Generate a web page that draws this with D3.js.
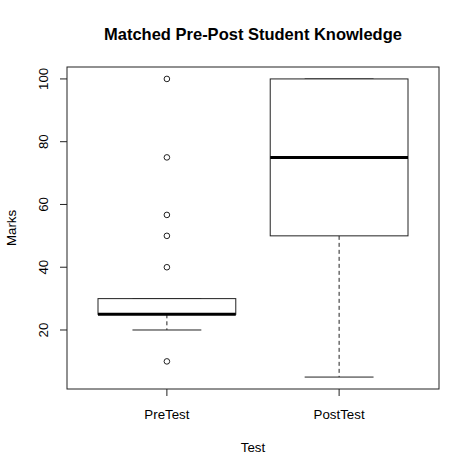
<!DOCTYPE html>
<html><head><meta charset="utf-8">
<script src="https://cdn.jsdelivr.net/npm/d3@7"></script>
<style>body{margin:0;background:#fff}svg{display:block}text{font-family:"Liberation Sans",Arial,sans-serif;fill:#000}</style>
</head><body><svg id="c" width="474" height="474"></svg>
<script>
const categories = ["PreTest", "PostTest"];
const q1 = [25, 50];
const medians = [25, 75];
const q3 = [30, 100];
const whiskerLow = [20, 5];
const whiskerHigh = [30, 100];
const outliers = [[100, 75, 56.67, 50, 40, 10], []];
const yTicks = [20, 40, 60, 80, 100];

const svg = d3.select("#c");
const L = 67, R = 439, T = 67, B = 389;
const x = d3.scaleLinear().domain([0.42, 2.58]).range([L, R]);
const y = d3.scaleLinear().domain([1.2, 103.8]).range([B, T]);
const hw = 0.4, cw = 0.2;
const stroke = "#222";

svg.append("rect").attr("x", L).attr("y", T).attr("width", R - L).attr("height", B - T)
  .attr("fill", "none").attr("stroke", stroke).attr("stroke-width", 1);

categories.forEach((c, i) => {
  const xi = i + 1;
  const g = svg.append("g");
  g.append("line").attr("x1", x(xi)).attr("x2", x(xi)).attr("y1", y(q1[i])).attr("y2", y(whiskerLow[i]))
    .attr("stroke", stroke).attr("stroke-dasharray", "4,3");
  if (whiskerHigh[i] > q3[i]) g.append("line").attr("x1", x(xi)).attr("x2", x(xi)).attr("y1", y(q3[i])).attr("y2", y(whiskerHigh[i]))
    .attr("stroke", stroke).attr("stroke-dasharray", "4,3");
  g.append("line").attr("x1", x(xi - cw)).attr("x2", x(xi + cw)).attr("y1", y(whiskerLow[i])).attr("y2", y(whiskerLow[i])).attr("stroke", stroke);
  g.append("line").attr("x1", x(xi - cw)).attr("x2", x(xi + cw)).attr("y1", y(whiskerHigh[i])).attr("y2", y(whiskerHigh[i])).attr("stroke", stroke);
  g.append("rect").attr("x", x(xi - hw)).attr("y", y(q3[i])).attr("width", x(xi + hw) - x(xi - hw))
    .attr("height", y(q1[i]) - y(q3[i])).attr("fill", "#fff").attr("stroke", stroke);
  g.append("line").attr("x1", x(xi - hw)).attr("x2", x(xi + hw)).attr("y1", y(medians[i])).attr("y2", y(medians[i]))
    .attr("stroke", "#000").attr("stroke-width", 3);
  g.selectAll("circle").data(outliers[i]).join("circle").attr("cx", x(xi)).attr("cy", d => y(d)).attr("r", 2.8)
    .attr("fill", "none").attr("stroke", stroke);
});

const ya = svg.append("g").attr("transform", `translate(${L},0)`);
yTicks.forEach(t => {
  ya.append("line").attr("x1", 0).attr("x2", -7).attr("y1", y(t)).attr("y2", y(t)).attr("stroke", stroke);
  ya.append("text").attr("transform", `translate(-19,${y(t)}) rotate(-90)`).attr("text-anchor", "middle")
    .attr("font-size", 13.3).text(t);
});
categories.forEach((c, i) => {
  svg.append("line").attr("x1", x(i + 1)).attr("x2", x(i + 1)).attr("y1", B).attr("y2", B + 7).attr("stroke", stroke);
  svg.append("text").attr("x", x(i + 1)).attr("y", 419).attr("text-anchor", "middle").attr("font-size", 13.3).text(c);
});

svg.append("text").attr("x", (L + R) / 2).attr("y", 452).attr("text-anchor", "middle").attr("font-size", 13.3).text("Test");
svg.append("text").attr("transform", `translate(16,${(T + B) / 2}) rotate(-90)`).attr("text-anchor", "middle").attr("font-size", 13.3).text("Marks");
svg.append("text").attr("x", (L + R) / 2).attr("y", 40).attr("text-anchor", "middle").attr("font-size", 16.5)
  .attr("font-weight", "bold").text("Matched Pre-Post Student Knowledge");
</script></body></html>
